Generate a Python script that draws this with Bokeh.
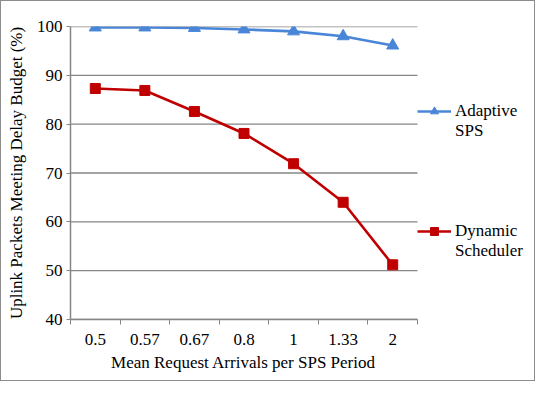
from bokeh.plotting import figure
from bokeh.models import (ColumnDataSource, FixedTicker, Range1d, Legend, LegendItem)
from bokeh.embed import file_html
from bokeh.resources import INLINE

categories = ["0.5", "0.57", "0.67", "0.8", "1", "1.33", "2"]
adaptive_sps = [99.8, 99.8, 99.7, 99.4, 99.0, 98.0, 96.1]
dynamic_scheduler = [87.3, 86.9, 82.6, 78.1, 71.9, 64.0, 51.2]
y_ticks = [40, 50, 60, 70, 80, 90, 100]
series_labels = [["Adaptive", "SPS"], ["Dynamic", "Scheduler"]]
x_title = "Mean Request Arrivals per SPS Period"
y_title = "Uplink Packets Meeting Delay Budget (%)"

FONT = "'Liberation Serif', 'Times New Roman', serif"
GRID = "#868686"
BLUE = "#4A86D8"
RED = "#C00000"

W, H = 535, 381
BL, BR, BT, BB = 69, 1, 25, 63
PLOT_W = 347                      # pixel width of the category area
frame_w = W - BL - BR
n = len(categories)
x_end = n * frame_w / PLOT_W      # extra room on the right holds the legend

# the axis title is centred on the whole frame; pad it with no-break spaces
# (0.25em each at 17px) so that its visible part is centred on the category area
pad = round((frame_w - PLOT_W) / (0.25 * 17))
x_title_padded = x_title + "\u00a0" * pad

xpos = [i + 0.5 for i in range(n)]
src = ColumnDataSource(dict(x=xpos, cat=categories, a=adaptive_sps, d=dynamic_scheduler))
grid_src = ColumnDataSource(dict(x0=[0] * len(y_ticks), x1=[n] * len(y_ticks), y=y_ticks))

p = figure(width=W, height=H, output_backend="svg", toolbar_location=None,
           x_range=Range1d(0, x_end), y_range=Range1d(40, 100),
           min_border_left=BL, min_border_right=BR, min_border_top=BT, min_border_bottom=BB,
           styles={"border": "1px solid #8c8c8c"})
p.outline_line_color = None
p.background_fill_color = "white"
p.border_fill_color = "white"

# horizontal gridlines restricted to the category area
p.xgrid.grid_line_color = None
p.ygrid.grid_line_color = None
p.segment(x0="x0", x1="x1", y0="y", y1="y", source=grid_src, line_color=GRID, line_width=1.3)

# x axis
p.xaxis.bounds = (0, n)
p.xaxis.ticker = FixedTicker(ticks=xpos, minor_ticks=list(range(n + 1)))
p.xaxis.major_label_overrides = {x: c for x, c in zip(xpos, categories)}
p.xaxis.major_tick_out = 0
p.xaxis.major_tick_in = 0
p.xaxis.minor_tick_out = 5
p.xaxis.minor_tick_in = 0
p.xaxis.minor_tick_line_color = GRID
p.xaxis.axis_line_color = GRID
p.xaxis.major_label_standoff = 9
p.xaxis.axis_label = x_title_padded
p.xaxis.axis_label_standoff = 5

# y axis
p.yaxis.ticker = FixedTicker(ticks=y_ticks)
p.yaxis.minor_tick_line_color = None
p.yaxis.major_tick_out = 4
p.yaxis.major_tick_in = 0
p.yaxis.major_tick_line_color = GRID
p.yaxis.axis_line_color = GRID
p.yaxis.major_label_standoff = 4
p.yaxis.axis_label = y_title
p.yaxis.axis_label_standoff = 8

for ax in (p.xaxis[0], p.yaxis[0]):
    ax.major_label_text_font = FONT
    ax.major_label_text_font_size = "17px"
    ax.major_label_text_color = "black"
    ax.axis_label_text_font = FONT
    ax.axis_label_text_font_size = "17px"
    ax.axis_label_text_font_style = "normal"
    ax.axis_label_text_color = "black"
    ax.axis_line_width = 1.5

la = p.line("x", "a", source=src, line_color=BLUE, line_width=2.6)
ma = p.scatter("x", "a", source=src, marker="triangle", size=12, fill_color=BLUE, line_color=BLUE)
ld = p.line("x", "d", source=src, line_color=RED, line_width=2.6)
md = p.scatter("x", "d", source=src, marker="square", size=10, fill_color=RED, line_color=RED)

# invisible renderer used for the legend's second text lines and spacer rows
blank = p.scatter(x=[], y=[], size=1, fill_alpha=0, line_alpha=0)

items = [LegendItem(label=series_labels[0][0], renderers=[la, ma]),
         LegendItem(label=series_labels[0][1], renderers=[blank])]
items += [LegendItem(label=" " * (k + 1), renderers=[blank]) for k in range(4)]
items += [LegendItem(label=series_labels[1][0], renderers=[ld, md]),
          LegendItem(label=series_labels[1][1], renderers=[blank])]

lg = Legend(items=items, location=(PLOT_W, 58), spacing=0,
            padding=0, margin=0, glyph_width=34, glyph_height=20, label_height=20,
            label_standoff=4, border_line_color=None, background_fill_alpha=0,
            label_text_font=FONT, label_text_font_size="17px", label_text_color="black")
p.add_layout(lg, "center")

open("out.html", "w").write(file_html(p, INLINE))
